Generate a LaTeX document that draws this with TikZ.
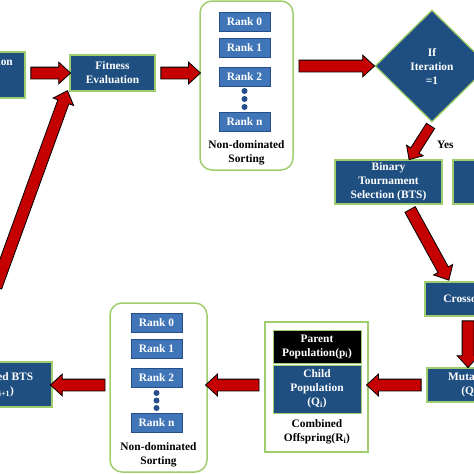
\documentclass[tikz,border=0pt]{standalone}
\usepackage{fontspec}
\setmainfont{Liberation Serif}
\usepackage{tikz}
\usetikzlibrary{calc,shapes.geometric,shapes.arrows}

\definecolor{boxblue}{RGB}{31,78,128}
\definecolor{rankblue}{RGB}{64,117,184}
\definecolor{rankedge}{RGB}{38,78,138}
\definecolor{framegreen}{RGB}{160,205,110}
\definecolor{arrowred}{RGB}{196,0,0}

\tikzset{
  procbox/.style={draw=framegreen, line width=1.3pt, fill=boxblue, text=white, align=center, inner sep=0pt,
    font=\bfseries\fontsize{11.4}{14}\selectfont},
  rankbox/.style={draw=rankedge, line width=0.8pt, fill=rankblue, text=white, inner sep=0pt,
    minimum width=51pt, minimum height=19pt, font=\bfseries\fontsize{11.4}{12}\selectfont},
  sortframe/.style={draw=framegreen, line width=1.5pt, rounded corners=12pt, fill=white, inner sep=0pt},
  rankdot/.style={circle, fill=rankedge, inner sep=0pt, minimum size=6pt},
  lbltext/.style={text=black, align=center, inner sep=0pt, font=\bfseries\fontsize{11.4}{14}\selectfont},
  bigarrow/.style={single arrow, draw=black, fill=arrowred, line width=0.8pt, inner xsep=0pt, inner ysep=5.5pt,
    outer sep=0pt, text height=0pt, text depth=0pt, single arrow head extend=5pt, single arrow tip angle=85},
}

% block arrow between two points: name, from, to
\newcommand{\blockarrow}[4][]{%
  \path let \p1=#3, \p2=#4, \n1={atan2(\y2-\y1,\x2-\x1)}, \n2={veclen(\x2-\x1,\y2-\y1)} in
    node[bigarrow, #1, minimum height=\n2, rotate=\n1] (#2) at ($(\p1)!0.5!(\p2)$) {};}

\begin{document}
\begin{tikzpicture}[x=1pt,y=-1pt]
\useasboundingbox (0,0) rectangle (474,474);
\clip (0,0) rectangle (474,474);

% top row
\node [procbox, minimum width=100pt, minimum height=46pt] (init) at (-25,75) {};
\node [lbltext, text=white, anchor=east] (initlbl) at (13,62) {Initialization};
\node [procbox, minimum width=85pt, minimum height=36pt] (fit) at (112.5,73) {Fitness\\Evaluation};

% Non-dominated sorting (top)
\node [sortframe, minimum width=93pt, minimum height=169pt] (sortA) at (246.5,85.5) {};
\node [rankbox] (rA0) at (244.5,21.5) {Rank 0};
\node [rankbox] (rA1) at (244.5,47.5) {Rank 1};
\node [rankbox] (rA2) at (244.5,76.5) {Rank 2};
\node [rankbox] (rAn) at (244.5,121.5) {Rank n};
\foreach \i/\yy in {1/91,2/99,3/107}
  \node [rankdot] (dA\i) at (244.5,\yy) {};
\node [lbltext] (sortAlbl) at (246.5,153) {Non-dominated\\Sorting};

% decision
\node [diamond, aspect=1, draw=framegreen, line width=1.3pt, fill=boxblue, text=white, align=center, inner sep=0pt,
  minimum width=114pt, minimum height=112pt, font=\bfseries\fontsize{11.4}{14}\selectfont] (dia) at (432,66) {If\\Iteration\\=1};

% right column
\node [procbox, minimum width=107pt, minimum height=44pt] (bts) at (388.5,182) {Binary\\Tournament\\Selection (BTS)};
\node [procbox, minimum width=107pt, minimum height=44pt] (rside) at (506.5,182) {};
\node [procbox, minimum width=86pt, minimum height=34pt] (cross) at (468,299) {Crossover};
\node [procbox, minimum width=88pt, minimum height=34pt] (mut) at (471,385) {Mutation\\(Q\textsubscript{i})};

% combined offspring
\node [draw=framegreen, line width=1.5pt, fill=white, minimum width=103pt, minimum height=130pt, inner sep=0pt] (comb) at (316.5,387) {};
\node [procbox, fill=black, line width=1pt, minimum width=88pt, minimum height=33pt] (parent) at (317,346.5) {Parent\\Population(p\textsubscript{i})};
\node [procbox, line width=1pt, minimum width=88pt, minimum height=48pt] (child) at (317,389) {Child\\Population\\(Q\textsubscript{i})};
\node [lbltext] (comblbl) at (317,432) {Combined\\Offspring(R\textsubscript{i})};

% Non-dominated sorting (bottom)
\node [sortframe, minimum width=97pt, minimum height=169pt] (sortB) at (158.5,387.5) {};
\node [rankbox] (rB0) at (156.5,323) {Rank 0};
\node [rankbox] (rB1) at (156.5,348.5) {Rank 1};
\node [rankbox] (rB2) at (156.5,378) {Rank 2};
\node [rankbox] (rBn) at (156.5,423) {Rank n};
\foreach \i/\yy in {1/393,2/400.5,3/408}
  \node [rankdot] (dB\i) at (156.5,\yy) {};
\node [lbltext] (sortBlbl) at (158.5,455) {Non-dominated\\Sorting};

\node [procbox, minimum width=102pt, minimum height=45pt] (sel) at (1,384.5) {Selected BTS\\(P\textsubscript{i+1})};

\coordinate (back) at (-5,290);

% arrows
\blockarrow{a1}{($(init.east |- fit.west)+(2,0)$)}{($(fit.west)+(-2,0)$)}
\blockarrow{a2}{($(fit.east)+(2,0)$)}{($(fit.east -| sortA.west)+(-2,0)$)}
\blockarrow{a3}{($(sortA.east |- dia.west)+(2,0)$)}{($(dia.west)+(-3,0)$)}
\blockarrow[inner ysep=4.5pt]{a4}{($(dia.south)+(0,1)$)}{($(bts.north)+(22,-2)$)}
\node [lbltext, anchor=west] (yes) at (437,145) {Yes};
\blockarrow{a5}{($(bts.south)+(20,2)$)}{($(cross.north west)+(23,-4)$)}
\blockarrow{a6}{($(cross.south)+(0,1)$)}{($(cross.south |- mut.north)+(0,-3)$)}
\blockarrow{a7}{($(mut.west)+(-2,0)$)}{($(mut.west -| comb.east)+(1,0)$)}
\blockarrow{a8}{($(comb.west |- mut.west)+(-2,0)$)}{($(mut.west -| sortB.east)+(1,0)$)}
\blockarrow{a9}{($(sortB.west |- mut.west)+(-1,0)$)}{($(mut.west -| sel.east)+(1,0)$)}
\blockarrow{a10}{(back)}{($(fit.south west)+(-3,2)$)}
\end{tikzpicture}
\end{document}
